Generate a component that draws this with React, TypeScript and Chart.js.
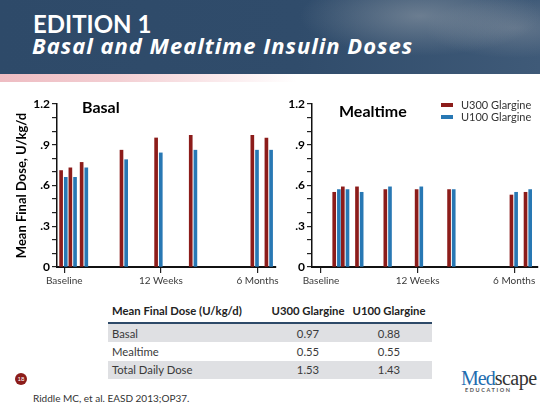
import React, { useEffect, useRef } from "react";
import { Chart, registerables } from "chart.js";

Chart.register(...registerables);

const FONT = 'Lato, "Open Sans", "DejaVu Sans", sans-serif';

// ---------- data ----------
const seriesNames = ["U300 Glargine", "U100 Glargine"];

// visit times (weeks from baseline) and mean doses, U/kg/d
const basalWeeks = [-0.1, 1.05, 2.45, 7.4, 11.7, 16.0, 23.65, 25.4];
const basalU300 = [0.71, 0.73, 0.77, 0.86, 0.95, 0.97, 0.97, 0.95];
const basalU100 = [0.66, 0.66, 0.73, 0.79, 0.84, 0.86, 0.86, 0.86];

const mealWeeks = [1.93, 3.0, 4.76, 8.28, 12.17, 16.2, 23.95, 25.7];
const mealU300 = [0.55, 0.59, 0.59, 0.57, 0.57, 0.57, 0.53, 0.55];
const mealU100 = [0.57, 0.57, 0.55, 0.59, 0.59, 0.57, 0.55, 0.57];

const xTickWeeks = [0, 12, 24];
const xTickLabels = ["Baseline", "12 Weeks", "6 Months"];
const yTickValues = [0, 0.3, 0.6, 0.9, 1.2];
const yTickLabels = ["0", ".3", ".6", ".9", "1.2"];

const tableHeader = ["Mean Final Dose (U/kg/d)", "U300 Glargine", "U100 Glargine"];
const tableRows = ["Basal", "Mealtime", "Total Daily Dose"];
const tableU300 = ["0.97", "0.55", "1.53"];
const tableU100 = ["0.88", "0.55", "1.43"];

// ---------- style ----------
const RED = "#8c1c1a";
const BLUE = "#2878b4";
const PAIR_OFFSET = 0.29; // weeks between pair centre and each bar

type PanelProps = {
  weeks: number[];
  u300: number[];
  u100: number[];
  xMin: number;
  xMax: number;
  yAxisWidth: number;
  showYTitle: boolean;
  width: number;
  height: number;
  padRight: number;
};

function BarPanel(p: PanelProps) {
  const ref = useRef<HTMLCanvasElement | null>(null);
  useEffect(() => {
    if (!ref.current) return;
    const chart = new Chart(ref.current, {
      type: "bar",
      data: {
        datasets: [
          {
            label: seriesNames[0],
            data: p.weeks.map((w, i) => ({ x: w - PAIR_OFFSET, y: p.u300[i] })),
            backgroundColor: RED,
            barThickness: 3,
            grouped: false,
          } as any,
          {
            label: seriesNames[1],
            data: p.weeks.map((w, i) => ({ x: w + PAIR_OFFSET, y: p.u100[i] })),
            backgroundColor: BLUE,
            barThickness: 3,
            grouped: false,
          } as any,
        ],
      },
      options: {
        animation: false,
        responsive: false,
        devicePixelRatio: 1,
        layout: { padding: { top: 14, right: p.padRight, bottom: 0, left: 0 } },
        plugins: { legend: { display: false }, tooltip: { enabled: false }, title: { display: false } },
        scales: {
          x: {
            type: "linear",
            min: p.xMin,
            max: p.xMax,
            offset: false,
            grid: {
              display: true,
              drawOnChartArea: false,
              drawTicks: true,
              tickLength: 6,
              color: "#222",
              lineWidth: 1.2,
              offset: false,
            },
            border: { display: true, color: "#111", width: 2 },
            afterBuildTicks: (s: any) => {
              s.ticks = xTickWeeks.map((v) => ({ value: v }));
            },
            ticks: {
              autoSkip: false,
              maxRotation: 0,
              padding: 2,
              color: "#3a3a3a",
              font: { family: FONT, size: 10 },
              callback: (v: any) => {
                const i = xTickWeeks.indexOf(Number(v));
                return i >= 0 ? xTickLabels[i] : "";
              },
            },
            afterFit: (s: any) => {
              s.height = 28;
              s.paddingLeft = 0;
              s.paddingRight = 0;
            },
          } as any,
          y: {
            type: "linear",
            min: 0,
            max: 1.2,
            grid: {
              display: true,
              drawOnChartArea: false,
              drawTicks: true,
              tickLength: 5,
              color: "#222",
              lineWidth: 1.2,
            },
            border: { display: true, color: "#111", width: 1.5 },
            ticks: {
              stepSize: 0.1,
              autoSkip: false,
              padding: 2,
              color: "#000",
              font: { family: FONT, size: 12, weight: "bold" },
              callback: (v: any) => {
                const i = yTickValues.findIndex((t) => Math.abs(t - Number(v)) < 1e-6);
                return i >= 0 ? yTickLabels[i] : "";
              },
            },
            title: {
              display: p.showYTitle,
              text: "Mean Final Dose, U/kg/d",
              color: "#000",
              font: { family: FONT, size: 13, weight: "bold" },
              padding: { top: 14, bottom: 0 },
            },
            afterFit: (s: any) => {
              s.width = p.yAxisWidth;
              s.paddingTop = 0;
              s.paddingBottom = 0;
            },
          } as any,
        },
      },
    });
    return () => chart.destroy();
  }, []);
  return (
    <canvas
      ref={ref}
      width={p.width}
      height={p.height}
      style={{ display: "block", width: p.width, height: p.height }}
    />
  );
}

export default function App() {
  const abs = (l: number, t: number, extra: React.CSSProperties = {}): React.CSSProperties => ({
    position: "absolute",
    left: l,
    top: t,
    ...extra,
  });
  const colW = [162, 76, 86];
  return (
    <div
      style={{
        position: "absolute",
        left: 0,
        top: 0,
        width: 540,
        height: 405,
        overflow: "hidden",
        background: "#fff",
        fontFamily: FONT,
      }}
    >
      {/* banner */}
      <div
        style={abs(0, 0, {
          width: 540,
          height: 74,
          background:
            "radial-gradient(ellipse 120px 40px at 420px 16px, rgba(150,160,170,0.55), rgba(150,160,170,0) 100%), radial-gradient(ellipse 90px 30px at 515px 28px, rgba(140,150,162,0.45), rgba(140,150,162,0) 100%), linear-gradient(to right, #2e4a69 0%, #304c6b 55%, #3f5a78 100%)",
        })}
      />
      <div
        style={abs(0, 74, {
          width: 540,
          height: 8,
          background:
            "linear-gradient(to right, #eebcc2 0%, #f3cfd3 22%, #fae9eb 40%, #ffffff 55%)",
        })}
      />
      <div
        style={abs(33, 9, {
          color: "#fff",
          fontSize: 24,
          fontWeight: 700,
          lineHeight: "30px",
          whiteSpace: "nowrap",
        })}
      >
        EDITION 1
      </div>
      <div
        style={abs(32, 31, {
          color: "#fff",
          fontFamily: '"Open Sans", Lato, sans-serif',
          fontSize: 22,
          fontWeight: 700,
          fontStyle: "italic",
          lineHeight: "28px",
          letterSpacing: 1,
          whiteSpace: "nowrap",
        })}
      >
        Basal and Mealtime Insulin Doses
      </div>

      {/* basal chart */}
      <div style={abs(0, 90)}>
        <BarPanel
          weeks={basalWeeks}
          u300={basalU300}
          u100={basalU100}
          xMin={-0.9}
          xMax={26.3}
          yAxisWidth={57}
          showYTitle={true}
          width={285}
          height={205}
          padRight={9}
        />
      </div>
      {/* mealtime chart */}
      <div style={abs(270, 90)}>
        <BarPanel
          weeks={mealWeeks}
          u300={mealU300}
          u100={mealU100}
          xMin={-1.12}
          xMax={26.96}
          yAxisWidth={42}
          showYTitle={false}
          width={270}
          height={205}
          padRight={2}
        />
      </div>

      {/* panel titles */}
      <div style={abs(82, 97, { fontSize: 16, fontWeight: 700, color: "#000", lineHeight: "20px" })}>Basal</div>
      <div style={abs(339, 101, { fontSize: 16, fontWeight: 700, color: "#000", lineHeight: "20px" })}>Mealtime</div>

      {/* legend */}
      {seriesNames.map((n, i) => (
        <div key={n} style={abs(441, 99 + i * 12, { display: "flex", alignItems: "center", height: 12 })}>
          <div style={{ width: 12, height: 3.5, background: i === 0 ? RED : BLUE, marginRight: 8 }} />
          <div style={{ fontSize: 11, color: "#333", lineHeight: "12px", whiteSpace: "nowrap" }}>{n}</div>
        </div>
      ))}

      {/* table */}
      <div style={abs(108, 300, { width: 324, fontSize: 11.3, color: "#3a3a3a", whiteSpace: "nowrap" })}>
        <div style={{ display: "flex", height: 20, alignItems: "center", fontWeight: 700, color: "#222" }}>
          <div style={{ width: colW[0], paddingLeft: 4, boxSizing: "border-box" }}>{tableHeader[0]}</div>
          <div style={{ width: colW[1], textAlign: "center" }}>{tableHeader[1]}</div>
          <div style={{ width: colW[2], textAlign: "center" }}>{tableHeader[2]}</div>
        </div>
        <div style={{ height: 2, background: "#2e4a69", marginTop: 2 }} />
        {tableRows.map((r, i) => (
          <div
            key={r}
            style={{
              display: "flex",
              height: 18.3,
              alignItems: "center",
              background: i % 2 === 0 ? "#dfe0e3" : "#fff",
            }}
          >
            <div style={{ width: colW[0], paddingLeft: 4, boxSizing: "border-box" }}>{r}</div>
            <div style={{ width: colW[1], textAlign: "center" }}>{tableU300[i]}</div>
            <div style={{ width: colW[2], textAlign: "center" }}>{tableU100[i]}</div>
          </div>
        ))}
      </div>

      {/* page number */}
      <div
        style={abs(15, 373, {
          width: 12,
          height: 12,
          borderRadius: 6,
          background: "#8c1c1a",
          color: "#fff",
          fontSize: 6,
          lineHeight: "12px",
          textAlign: "center",
        })}
      >
        18
      </div>
      {/* citation */}
      <div style={abs(33, 391, { fontSize: 10, color: "#333", lineHeight: "14px", whiteSpace: "nowrap" })}>
        Riddle MC, et al. EASD 2013;OP37.
      </div>

      {/* Medscape logo */}
      <div style={abs(461, 369, { lineHeight: "18px", whiteSpace: "nowrap" })}>
        <span style={{ fontFamily: '"Liberation Serif", "DejaVu Serif", serif', fontSize: 20, color: "#1f6db0", letterSpacing: -1 }}>
          Med
        </span>
        <span style={{ fontFamily: '"Liberation Serif", "DejaVu Serif", serif', fontSize: 20, color: "#333", letterSpacing: -0.5 }}>
          scape
        </span>
      </div>
      <div
        style={abs(465, 387, {
          fontSize: 5.5,
          fontWeight: 700,
          color: "#555",
          letterSpacing: 1.6,
          lineHeight: "7px",
          whiteSpace: "nowrap",
        })}
      >
        EDUCATION
      </div>
    </div>
  );
}
